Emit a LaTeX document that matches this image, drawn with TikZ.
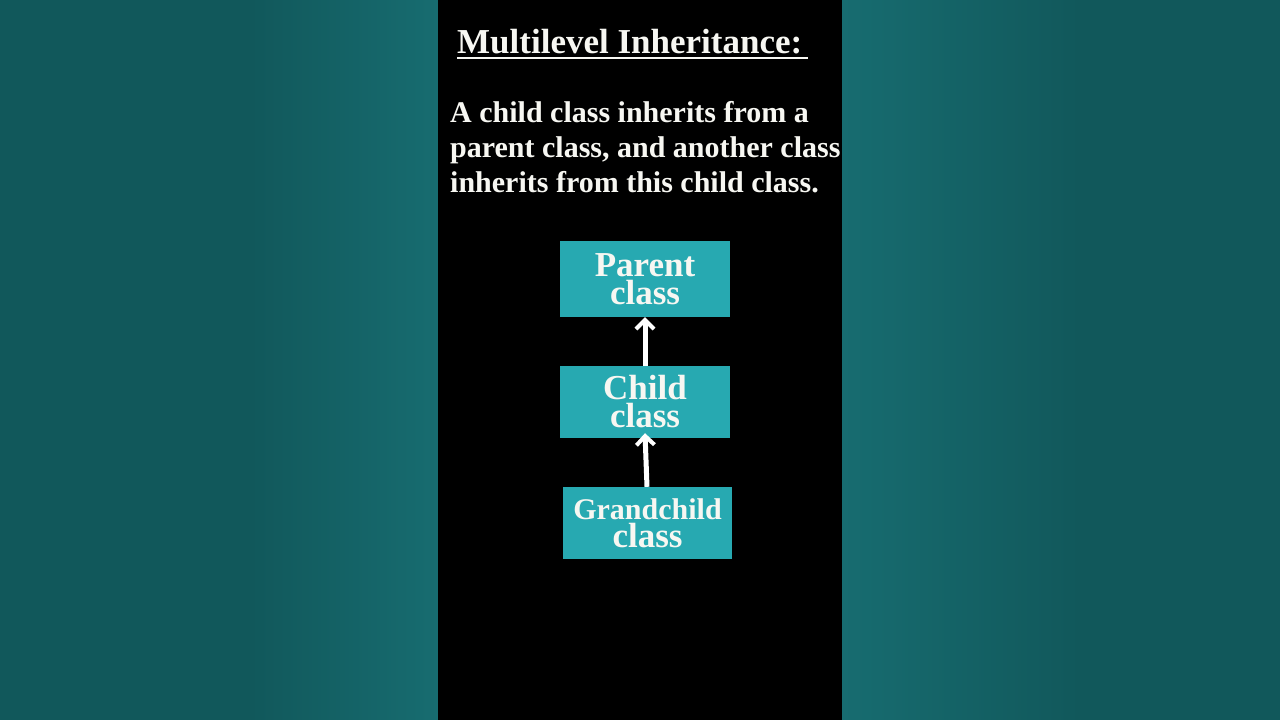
\documentclass[tikz,border=0pt]{standalone}
\usepackage{fontspec}
\setmainfont{Liberation Serif}
\usepackage{tikz}
\usetikzlibrary{arrows.meta}
\definecolor{sidedark}{HTML}{11585B}
\definecolor{sidelight}{HTML}{176C70}
\definecolor{boxteal}{HTML}{27A9B1}
\definecolor{textwhite}{HTML}{F7F7F2}

\begin{document}
\begin{tikzpicture}[x=1pt,y=-1pt,
  classbox/.style={fill=boxteal, draw=none, align=center, inner sep=0pt,
    text=textwhite, font=\bfseries\fontsize{35}{28}\selectfont},
  inherit/.style={draw=white, line width=5pt,
    -{Straight Barb[length=9pt,width=18pt,line width=4pt]}}]
\useasboundingbox (0,0) rectangle (1280,720);

% side panels
\fill[sidedark] (0,0) rectangle (438,720);
\shade[left color=sidedark, right color=sidelight] (250,0) rectangle (438,720);
\fill[sidedark] (842,0) rectangle (1280,720);
\shade[left color=sidelight, right color=sidedark] (842,0) rectangle (1080,720);
\fill[black] (438,0) rectangle (842,720);

% title and text
\node[anchor=base west, inner sep=0pt, text=textwhite,
  font=\bfseries\fontsize{35}{40}\selectfont] (title) at (457,53) {Multilevel Inheritance:};
\draw[textwhite, line width=2pt] ([yshift=-5pt]title.base west) -- ([yshift=-5pt,xshift=6pt]title.base east);
\node[anchor=north west, inner sep=0pt, text=textwhite, align=left,
  font=\bfseries\fontsize{30}{35}\selectfont] (desc) at (450,101.5)
  {A child class inherits from a\\parent class, and another class\\inherits from this child class.};

% classes
\node[classbox, minimum width=170pt, minimum height=76pt] (parent) at (645,279) {Parent\\class};
\node[classbox, minimum width=170pt, minimum height=72pt] (child) at (645,402) {Child\\class};
\node[classbox, minimum width=169pt, minimum height=72pt] (grandchild) at (647.5,523)
  {{\fontsize{30}{28}\selectfont Grandchild}\\class};

\draw[inherit] (child.north) -- (parent.south);
\draw[inherit] ([xshift=-0.5pt]grandchild.north) -- ([yshift=5pt]child.south);

\end{tikzpicture}
\end{document}
